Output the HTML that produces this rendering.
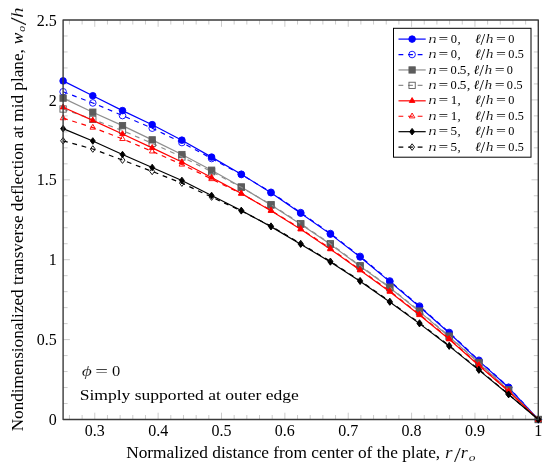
<!DOCTYPE html>
<html><head><meta charset="utf-8"><style>
html,body{margin:0;padding:0;background:#fff;}
svg{display:block;}
text{font-family:"Liberation Serif",serif;fill:#000;}
</style></head><body>
<svg width="550" height="468" viewBox="0 0 550 468">
<rect width="550" height="468" fill="#fff"/>
<path d="M69.44 419.50v-4.5M69.44 20.00v4.5M82.11 419.50v-4.5M82.11 20.00v4.5M94.78 419.50v-6.8M94.78 20.00v6.8M107.45 419.50v-4.5M107.45 20.00v4.5M120.12 419.50v-4.5M120.12 20.00v4.5M132.80 419.50v-4.5M132.80 20.00v4.5M145.47 419.50v-4.5M145.47 20.00v4.5M158.14 419.50v-6.8M158.14 20.00v6.8M170.81 419.50v-4.5M170.81 20.00v4.5M183.48 419.50v-4.5M183.48 20.00v4.5M196.16 419.50v-4.5M196.16 20.00v4.5M208.83 419.50v-4.5M208.83 20.00v4.5M221.50 419.50v-6.8M221.50 20.00v6.8M234.17 419.50v-4.5M234.17 20.00v4.5M246.84 419.50v-4.5M246.84 20.00v4.5M259.52 419.50v-4.5M259.52 20.00v4.5M272.19 419.50v-4.5M272.19 20.00v4.5M284.86 419.50v-6.8M284.86 20.00v6.8M297.53 419.50v-4.5M297.53 20.00v4.5M310.20 419.50v-4.5M310.20 20.00v4.5M322.88 419.50v-4.5M322.88 20.00v4.5M335.55 419.50v-4.5M335.55 20.00v4.5M348.22 419.50v-6.8M348.22 20.00v6.8M360.89 419.50v-4.5M360.89 20.00v4.5M373.56 419.50v-4.5M373.56 20.00v4.5M386.24 419.50v-4.5M386.24 20.00v4.5M398.91 419.50v-4.5M398.91 20.00v4.5M411.58 419.50v-6.8M411.58 20.00v6.8M424.25 419.50v-4.5M424.25 20.00v4.5M436.92 419.50v-4.5M436.92 20.00v4.5M449.60 419.50v-4.5M449.60 20.00v4.5M462.27 419.50v-4.5M462.27 20.00v4.5M474.94 419.50v-6.8M474.94 20.00v6.8M487.61 419.50v-4.5M487.61 20.00v4.5M500.28 419.50v-4.5M500.28 20.00v4.5M512.96 419.50v-4.5M512.96 20.00v4.5M525.63 419.50v-4.5M525.63 20.00v4.5M538.30 419.50v-6.8M538.30 20.00v6.8M63.10 403.52h4.5M538.30 403.52h-4.5M63.10 387.54h4.5M538.30 387.54h-4.5M63.10 371.56h4.5M538.30 371.56h-4.5M63.10 355.58h4.5M538.30 355.58h-4.5M63.10 339.60h6.8M538.30 339.60h-6.8M63.10 323.62h4.5M538.30 323.62h-4.5M63.10 307.64h4.5M538.30 307.64h-4.5M63.10 291.66h4.5M538.30 291.66h-4.5M63.10 275.68h4.5M538.30 275.68h-4.5M63.10 259.70h6.8M538.30 259.70h-6.8M63.10 243.72h4.5M538.30 243.72h-4.5M63.10 227.74h4.5M538.30 227.74h-4.5M63.10 211.76h4.5M538.30 211.76h-4.5M63.10 195.78h4.5M538.30 195.78h-4.5M63.10 179.80h6.8M538.30 179.80h-6.8M63.10 163.82h4.5M538.30 163.82h-4.5M63.10 147.84h4.5M538.30 147.84h-4.5M63.10 131.86h4.5M538.30 131.86h-4.5M63.10 115.88h4.5M538.30 115.88h-4.5M63.10 99.90h6.8M538.30 99.90h-6.8M63.10 83.92h4.5M538.30 83.92h-4.5M63.10 67.94h4.5M538.30 67.94h-4.5M63.10 51.96h4.5M538.30 51.96h-4.5M63.10 35.98h4.5M538.30 35.98h-4.5" stroke="#aaa" stroke-width="0.6" fill="none"/>
<polyline points="63.10,80.88 92.80,95.75 122.50,110.61 152.20,124.67 181.90,140.17 211.60,157.11 241.30,174.21 271.00,192.74 300.70,213.20 330.40,234.13 360.10,256.98 389.80,281.59 419.50,306.68 449.20,333.05 478.90,360.85 508.60,387.54 538.30,419.50" fill="none" stroke="#0000ff" stroke-width="1.2" stroke-linejoin="round"/>
<circle cx="63.10" cy="80.88" r="3.3" fill="#0000ff" stroke="#0000ff" stroke-width="0.9"/>
<circle cx="92.80" cy="95.75" r="3.3" fill="#0000ff" stroke="#0000ff" stroke-width="0.9"/>
<circle cx="122.50" cy="110.61" r="3.3" fill="#0000ff" stroke="#0000ff" stroke-width="0.9"/>
<circle cx="152.20" cy="124.67" r="3.3" fill="#0000ff" stroke="#0000ff" stroke-width="0.9"/>
<circle cx="181.90" cy="140.17" r="3.3" fill="#0000ff" stroke="#0000ff" stroke-width="0.9"/>
<circle cx="211.60" cy="157.11" r="3.3" fill="#0000ff" stroke="#0000ff" stroke-width="0.9"/>
<circle cx="241.30" cy="174.21" r="3.3" fill="#0000ff" stroke="#0000ff" stroke-width="0.9"/>
<circle cx="271.00" cy="192.74" r="3.3" fill="#0000ff" stroke="#0000ff" stroke-width="0.9"/>
<circle cx="300.70" cy="213.20" r="3.3" fill="#0000ff" stroke="#0000ff" stroke-width="0.9"/>
<circle cx="330.40" cy="234.13" r="3.3" fill="#0000ff" stroke="#0000ff" stroke-width="0.9"/>
<circle cx="360.10" cy="256.98" r="3.3" fill="#0000ff" stroke="#0000ff" stroke-width="0.9"/>
<circle cx="389.80" cy="281.59" r="3.3" fill="#0000ff" stroke="#0000ff" stroke-width="0.9"/>
<circle cx="419.50" cy="306.68" r="3.3" fill="#0000ff" stroke="#0000ff" stroke-width="0.9"/>
<circle cx="449.20" cy="333.05" r="3.3" fill="#0000ff" stroke="#0000ff" stroke-width="0.9"/>
<circle cx="478.90" cy="360.85" r="3.3" fill="#0000ff" stroke="#0000ff" stroke-width="0.9"/>
<circle cx="508.60" cy="387.54" r="3.3" fill="#0000ff" stroke="#0000ff" stroke-width="0.9"/>
<circle cx="538.30" cy="419.50" r="3.3" fill="#0000ff" stroke="#0000ff" stroke-width="0.9"/>
<polyline points="63.10,91.75 92.80,102.94 122.50,115.56 152.20,128.18 181.90,142.57 211.60,158.55 241.30,174.53 271.00,192.26 300.70,212.56 330.40,233.49 360.10,256.34 389.80,280.95 419.50,306.04 449.20,332.41 478.90,360.21 508.60,387.22 538.30,419.50" fill="none" stroke="#0000ff" stroke-width="1.2" stroke-dasharray="4.8 4.8" stroke-linejoin="round"/>
<circle cx="63.10" cy="91.75" r="3.3" fill="none" stroke="#0000ff" stroke-width="0.9"/>
<circle cx="92.80" cy="102.94" r="3.3" fill="none" stroke="#0000ff" stroke-width="0.9"/>
<circle cx="122.50" cy="115.56" r="3.3" fill="none" stroke="#0000ff" stroke-width="0.9"/>
<circle cx="152.20" cy="128.18" r="3.3" fill="none" stroke="#0000ff" stroke-width="0.9"/>
<circle cx="181.90" cy="142.57" r="3.3" fill="none" stroke="#0000ff" stroke-width="0.9"/>
<circle cx="211.60" cy="158.55" r="3.3" fill="none" stroke="#0000ff" stroke-width="0.9"/>
<circle cx="241.30" cy="174.53" r="3.3" fill="none" stroke="#0000ff" stroke-width="0.9"/>
<circle cx="271.00" cy="192.26" r="3.3" fill="none" stroke="#0000ff" stroke-width="0.9"/>
<circle cx="300.70" cy="212.56" r="3.3" fill="none" stroke="#0000ff" stroke-width="0.9"/>
<circle cx="330.40" cy="233.49" r="3.3" fill="none" stroke="#0000ff" stroke-width="0.9"/>
<circle cx="360.10" cy="256.34" r="3.3" fill="none" stroke="#0000ff" stroke-width="0.9"/>
<circle cx="389.80" cy="280.95" r="3.3" fill="none" stroke="#0000ff" stroke-width="0.9"/>
<circle cx="419.50" cy="306.04" r="3.3" fill="none" stroke="#0000ff" stroke-width="0.9"/>
<circle cx="449.20" cy="332.41" r="3.3" fill="none" stroke="#0000ff" stroke-width="0.9"/>
<circle cx="478.90" cy="360.21" r="3.3" fill="none" stroke="#0000ff" stroke-width="0.9"/>
<circle cx="508.60" cy="387.22" r="3.3" fill="none" stroke="#0000ff" stroke-width="0.9"/>
<circle cx="538.30" cy="419.50" r="3.3" fill="none" stroke="#0000ff" stroke-width="0.9"/>
<polyline points="63.10,98.14 92.80,112.20 122.50,125.63 152.20,139.85 181.90,154.55 211.60,170.21 241.30,186.99 271.00,205.05 300.70,224.22 330.40,244.36 360.10,266.25 389.80,287.82 419.50,311.63 449.20,336.72 478.90,363.09 508.60,390.10 538.30,419.50" fill="none" stroke="#8e8e8e" stroke-width="1.2" stroke-linejoin="round"/>
<rect x="59.95" y="94.99" width="6.30" height="6.30" fill="#5c5c5c" stroke="#5c5c5c" stroke-width="0.9"/>
<rect x="89.65" y="109.05" width="6.30" height="6.30" fill="#5c5c5c" stroke="#5c5c5c" stroke-width="0.9"/>
<rect x="119.35" y="122.48" width="6.30" height="6.30" fill="#5c5c5c" stroke="#5c5c5c" stroke-width="0.9"/>
<rect x="149.05" y="136.70" width="6.30" height="6.30" fill="#5c5c5c" stroke="#5c5c5c" stroke-width="0.9"/>
<rect x="178.75" y="151.40" width="6.30" height="6.30" fill="#5c5c5c" stroke="#5c5c5c" stroke-width="0.9"/>
<rect x="208.45" y="167.06" width="6.30" height="6.30" fill="#5c5c5c" stroke="#5c5c5c" stroke-width="0.9"/>
<rect x="238.15" y="183.84" width="6.30" height="6.30" fill="#5c5c5c" stroke="#5c5c5c" stroke-width="0.9"/>
<rect x="267.85" y="201.90" width="6.30" height="6.30" fill="#5c5c5c" stroke="#5c5c5c" stroke-width="0.9"/>
<rect x="297.55" y="221.07" width="6.30" height="6.30" fill="#5c5c5c" stroke="#5c5c5c" stroke-width="0.9"/>
<rect x="327.25" y="241.21" width="6.30" height="6.30" fill="#5c5c5c" stroke="#5c5c5c" stroke-width="0.9"/>
<rect x="356.95" y="263.10" width="6.30" height="6.30" fill="#5c5c5c" stroke="#5c5c5c" stroke-width="0.9"/>
<rect x="386.65" y="284.67" width="6.30" height="6.30" fill="#5c5c5c" stroke="#5c5c5c" stroke-width="0.9"/>
<rect x="416.35" y="308.49" width="6.30" height="6.30" fill="#5c5c5c" stroke="#5c5c5c" stroke-width="0.9"/>
<rect x="446.05" y="333.57" width="6.30" height="6.30" fill="#5c5c5c" stroke="#5c5c5c" stroke-width="0.9"/>
<rect x="475.75" y="359.94" width="6.30" height="6.30" fill="#5c5c5c" stroke="#5c5c5c" stroke-width="0.9"/>
<rect x="505.45" y="386.95" width="6.30" height="6.30" fill="#5c5c5c" stroke="#5c5c5c" stroke-width="0.9"/>
<rect x="535.15" y="416.35" width="6.30" height="6.30" fill="#5c5c5c" stroke="#5c5c5c" stroke-width="0.9"/>
<polyline points="63.10,109.01 92.80,119.40 122.50,130.58 152.20,143.37 181.90,156.95 211.60,171.65 241.30,187.31 271.00,204.57 300.70,223.59 330.40,243.72 360.10,265.61 389.80,287.19 419.50,311.00 449.20,336.08 478.90,362.45 508.60,389.78 538.30,419.50" fill="none" stroke="#8e8e8e" stroke-width="1.2" stroke-dasharray="4.8 4.8" stroke-linejoin="round"/>
<rect x="59.95" y="105.86" width="6.30" height="6.30" fill="none" stroke="#5c5c5c" stroke-width="0.9"/>
<rect x="89.65" y="116.25" width="6.30" height="6.30" fill="none" stroke="#5c5c5c" stroke-width="0.9"/>
<rect x="119.35" y="127.43" width="6.30" height="6.30" fill="none" stroke="#5c5c5c" stroke-width="0.9"/>
<rect x="149.05" y="140.22" width="6.30" height="6.30" fill="none" stroke="#5c5c5c" stroke-width="0.9"/>
<rect x="178.75" y="153.80" width="6.30" height="6.30" fill="none" stroke="#5c5c5c" stroke-width="0.9"/>
<rect x="208.45" y="168.50" width="6.30" height="6.30" fill="none" stroke="#5c5c5c" stroke-width="0.9"/>
<rect x="238.15" y="184.16" width="6.30" height="6.30" fill="none" stroke="#5c5c5c" stroke-width="0.9"/>
<rect x="267.85" y="201.42" width="6.30" height="6.30" fill="none" stroke="#5c5c5c" stroke-width="0.9"/>
<rect x="297.55" y="220.44" width="6.30" height="6.30" fill="none" stroke="#5c5c5c" stroke-width="0.9"/>
<rect x="327.25" y="240.57" width="6.30" height="6.30" fill="none" stroke="#5c5c5c" stroke-width="0.9"/>
<rect x="356.95" y="262.46" width="6.30" height="6.30" fill="none" stroke="#5c5c5c" stroke-width="0.9"/>
<rect x="386.65" y="284.04" width="6.30" height="6.30" fill="none" stroke="#5c5c5c" stroke-width="0.9"/>
<rect x="416.35" y="307.85" width="6.30" height="6.30" fill="none" stroke="#5c5c5c" stroke-width="0.9"/>
<rect x="446.05" y="332.93" width="6.30" height="6.30" fill="none" stroke="#5c5c5c" stroke-width="0.9"/>
<rect x="475.75" y="359.30" width="6.30" height="6.30" fill="none" stroke="#5c5c5c" stroke-width="0.9"/>
<rect x="505.45" y="386.63" width="6.30" height="6.30" fill="none" stroke="#5c5c5c" stroke-width="0.9"/>
<rect x="535.15" y="416.35" width="6.30" height="6.30" fill="none" stroke="#5c5c5c" stroke-width="0.9"/>
<polyline points="63.10,107.25 92.80,120.35 122.50,133.94 152.20,147.84 181.90,162.06 211.60,177.56 241.30,193.38 271.00,210.80 300.70,229.34 330.40,249.15 360.10,270.25 389.80,291.66 419.50,314.99 449.20,339.28 478.90,365.49 508.60,391.22 538.30,419.50" fill="none" stroke="#ff0000" stroke-width="1.2" stroke-linejoin="round"/>
<polygon points="63.10,104.00 65.91,108.88 60.29,108.88" fill="#ff0000" stroke="#ff0000" stroke-width="0.9" stroke-linejoin="round"/>
<polygon points="92.80,117.10 95.61,121.98 89.99,121.98" fill="#ff0000" stroke="#ff0000" stroke-width="0.9" stroke-linejoin="round"/>
<polygon points="122.50,130.69 125.31,135.56 119.69,135.56" fill="#ff0000" stroke="#ff0000" stroke-width="0.9" stroke-linejoin="round"/>
<polygon points="152.20,144.59 155.01,149.47 149.39,149.47" fill="#ff0000" stroke="#ff0000" stroke-width="0.9" stroke-linejoin="round"/>
<polygon points="181.90,158.81 184.71,163.69 179.09,163.69" fill="#ff0000" stroke="#ff0000" stroke-width="0.9" stroke-linejoin="round"/>
<polygon points="211.60,174.31 214.41,179.19 208.79,179.19" fill="#ff0000" stroke="#ff0000" stroke-width="0.9" stroke-linejoin="round"/>
<polygon points="241.30,190.13 244.11,195.01 238.49,195.01" fill="#ff0000" stroke="#ff0000" stroke-width="0.9" stroke-linejoin="round"/>
<polygon points="271.00,207.55 273.81,212.43 268.19,212.43" fill="#ff0000" stroke="#ff0000" stroke-width="0.9" stroke-linejoin="round"/>
<polygon points="300.70,226.09 303.51,230.96 297.89,230.96" fill="#ff0000" stroke="#ff0000" stroke-width="0.9" stroke-linejoin="round"/>
<polygon points="330.40,245.90 333.21,250.78 327.59,250.78" fill="#ff0000" stroke="#ff0000" stroke-width="0.9" stroke-linejoin="round"/>
<polygon points="360.10,267.00 362.91,271.87 357.29,271.87" fill="#ff0000" stroke="#ff0000" stroke-width="0.9" stroke-linejoin="round"/>
<polygon points="389.80,288.41 392.61,293.28 386.99,293.28" fill="#ff0000" stroke="#ff0000" stroke-width="0.9" stroke-linejoin="round"/>
<polygon points="419.50,311.74 422.31,316.62 416.69,316.62" fill="#ff0000" stroke="#ff0000" stroke-width="0.9" stroke-linejoin="round"/>
<polygon points="449.20,336.03 452.01,340.91 446.39,340.91" fill="#ff0000" stroke="#ff0000" stroke-width="0.9" stroke-linejoin="round"/>
<polygon points="478.90,362.24 481.71,367.11 476.09,367.11" fill="#ff0000" stroke="#ff0000" stroke-width="0.9" stroke-linejoin="round"/>
<polygon points="508.60,387.97 511.41,392.84 505.79,392.84" fill="#ff0000" stroke="#ff0000" stroke-width="0.9" stroke-linejoin="round"/>
<polygon points="538.30,416.25 541.11,421.12 535.49,421.12" fill="#ff0000" stroke="#ff0000" stroke-width="0.9" stroke-linejoin="round"/>
<polyline points="63.10,118.12 92.80,127.55 122.50,138.89 152.20,151.36 181.90,164.46 211.60,179.00 241.30,193.70 271.00,210.32 300.70,228.70 330.40,248.51 360.10,269.61 389.80,291.02 419.50,314.35 449.20,338.64 478.90,364.85 508.60,390.90 538.30,419.50" fill="none" stroke="#ff0000" stroke-width="1.2" stroke-dasharray="4.8 4.8" stroke-linejoin="round"/>
<polygon points="63.10,114.87 65.91,119.74 60.29,119.74" fill="none" stroke="#ff0000" stroke-width="0.9" stroke-linejoin="round"/>
<polygon points="92.80,124.30 95.61,129.17 89.99,129.17" fill="none" stroke="#ff0000" stroke-width="0.9" stroke-linejoin="round"/>
<polygon points="122.50,135.64 125.31,140.52 119.69,140.52" fill="none" stroke="#ff0000" stroke-width="0.9" stroke-linejoin="round"/>
<polygon points="152.20,148.11 155.01,152.98 149.39,152.98" fill="none" stroke="#ff0000" stroke-width="0.9" stroke-linejoin="round"/>
<polygon points="181.90,161.21 184.71,166.08 179.09,166.08" fill="none" stroke="#ff0000" stroke-width="0.9" stroke-linejoin="round"/>
<polygon points="211.60,175.75 214.41,180.63 208.79,180.63" fill="none" stroke="#ff0000" stroke-width="0.9" stroke-linejoin="round"/>
<polygon points="241.30,190.45 244.11,195.33 238.49,195.33" fill="none" stroke="#ff0000" stroke-width="0.9" stroke-linejoin="round"/>
<polygon points="271.00,207.07 273.81,211.95 268.19,211.95" fill="none" stroke="#ff0000" stroke-width="0.9" stroke-linejoin="round"/>
<polygon points="300.70,225.45 303.51,230.32 297.89,230.32" fill="none" stroke="#ff0000" stroke-width="0.9" stroke-linejoin="round"/>
<polygon points="330.40,245.26 333.21,250.14 327.59,250.14" fill="none" stroke="#ff0000" stroke-width="0.9" stroke-linejoin="round"/>
<polygon points="360.10,266.36 362.91,271.23 357.29,271.23" fill="none" stroke="#ff0000" stroke-width="0.9" stroke-linejoin="round"/>
<polygon points="389.80,287.77 392.61,292.65 386.99,292.65" fill="none" stroke="#ff0000" stroke-width="0.9" stroke-linejoin="round"/>
<polygon points="419.50,311.10 422.31,315.98 416.69,315.98" fill="none" stroke="#ff0000" stroke-width="0.9" stroke-linejoin="round"/>
<polygon points="449.20,335.39 452.01,340.27 446.39,340.27" fill="none" stroke="#ff0000" stroke-width="0.9" stroke-linejoin="round"/>
<polygon points="478.90,361.60 481.71,366.47 476.09,366.47" fill="none" stroke="#ff0000" stroke-width="0.9" stroke-linejoin="round"/>
<polygon points="508.60,387.65 511.41,392.52 505.79,392.52" fill="none" stroke="#ff0000" stroke-width="0.9" stroke-linejoin="round"/>
<polygon points="538.30,416.25 541.11,421.12 535.49,421.12" fill="none" stroke="#ff0000" stroke-width="0.9" stroke-linejoin="round"/>
<polyline points="63.10,128.66 92.80,140.97 122.50,154.55 152.20,167.50 181.90,180.44 211.60,195.46 241.30,210.48 271.00,226.62 300.70,244.20 330.40,261.94 360.10,281.27 389.80,302.05 419.50,323.62 449.20,346.15 478.90,370.12 508.60,394.57 538.30,419.50" fill="none" stroke="#000000" stroke-width="1.2" stroke-linejoin="round"/>
<polygon points="63.10,125.36 65.58,128.66 63.10,131.96 60.62,128.66" fill="#000000" stroke="#000000" stroke-width="0.9" stroke-linejoin="round"/>
<polygon points="92.80,137.67 95.27,140.97 92.80,144.27 90.33,140.97" fill="#000000" stroke="#000000" stroke-width="0.9" stroke-linejoin="round"/>
<polygon points="122.50,151.25 124.97,154.55 122.50,157.85 120.03,154.55" fill="#000000" stroke="#000000" stroke-width="0.9" stroke-linejoin="round"/>
<polygon points="152.20,164.20 154.67,167.50 152.20,170.80 149.72,167.50" fill="#000000" stroke="#000000" stroke-width="0.9" stroke-linejoin="round"/>
<polygon points="181.90,177.14 184.37,180.44 181.90,183.74 179.42,180.44" fill="#000000" stroke="#000000" stroke-width="0.9" stroke-linejoin="round"/>
<polygon points="211.60,192.16 214.07,195.46 211.60,198.76 209.12,195.46" fill="#000000" stroke="#000000" stroke-width="0.9" stroke-linejoin="round"/>
<polygon points="241.30,207.18 243.77,210.48 241.30,213.78 238.82,210.48" fill="#000000" stroke="#000000" stroke-width="0.9" stroke-linejoin="round"/>
<polygon points="271.00,223.32 273.48,226.62 271.00,229.92 268.52,226.62" fill="#000000" stroke="#000000" stroke-width="0.9" stroke-linejoin="round"/>
<polygon points="300.70,240.90 303.18,244.20 300.70,247.50 298.22,244.20" fill="#000000" stroke="#000000" stroke-width="0.9" stroke-linejoin="round"/>
<polygon points="330.40,258.64 332.88,261.94 330.40,265.24 327.92,261.94" fill="#000000" stroke="#000000" stroke-width="0.9" stroke-linejoin="round"/>
<polygon points="360.10,277.97 362.57,281.27 360.10,284.57 357.62,281.27" fill="#000000" stroke="#000000" stroke-width="0.9" stroke-linejoin="round"/>
<polygon points="389.80,298.75 392.27,302.05 389.80,305.35 387.32,302.05" fill="#000000" stroke="#000000" stroke-width="0.9" stroke-linejoin="round"/>
<polygon points="419.50,320.32 421.98,323.62 419.50,326.92 417.02,323.62" fill="#000000" stroke="#000000" stroke-width="0.9" stroke-linejoin="round"/>
<polygon points="449.20,342.85 451.68,346.15 449.20,349.45 446.72,346.15" fill="#000000" stroke="#000000" stroke-width="0.9" stroke-linejoin="round"/>
<polygon points="478.90,366.82 481.38,370.12 478.90,373.42 476.42,370.12" fill="#000000" stroke="#000000" stroke-width="0.9" stroke-linejoin="round"/>
<polygon points="508.60,391.27 511.07,394.57 508.60,397.87 506.12,394.57" fill="#000000" stroke="#000000" stroke-width="0.9" stroke-linejoin="round"/>
<polygon points="538.30,416.20 540.77,419.50 538.30,422.80 535.82,419.50" fill="#000000" stroke="#000000" stroke-width="0.9" stroke-linejoin="round"/>
<polyline points="63.10,140.83 92.80,149.02 122.50,160.10 152.20,171.43 181.90,183.12 211.60,197.07 241.30,210.84 271.00,226.14 300.70,243.56 330.40,261.30 360.10,280.63 389.80,301.41 419.50,322.98 449.20,345.51 478.90,369.48 508.60,394.25 538.30,419.50" fill="none" stroke="#000000" stroke-width="1.2" stroke-dasharray="4.8 4.8" stroke-linejoin="round"/>
<polygon points="63.10,137.53 65.58,140.83 63.10,144.13 60.62,140.83" fill="none" stroke="#000000" stroke-width="0.9" stroke-linejoin="round"/>
<polygon points="92.80,145.72 95.27,149.02 92.80,152.32 90.33,149.02" fill="none" stroke="#000000" stroke-width="0.9" stroke-linejoin="round"/>
<polygon points="122.50,156.80 124.97,160.10 122.50,163.40 120.03,160.10" fill="none" stroke="#000000" stroke-width="0.9" stroke-linejoin="round"/>
<polygon points="152.20,168.13 154.67,171.43 152.20,174.73 149.72,171.43" fill="none" stroke="#000000" stroke-width="0.9" stroke-linejoin="round"/>
<polygon points="181.90,179.82 184.37,183.12 181.90,186.42 179.42,183.12" fill="none" stroke="#000000" stroke-width="0.9" stroke-linejoin="round"/>
<polygon points="211.60,193.77 214.07,197.07 211.60,200.37 209.12,197.07" fill="none" stroke="#000000" stroke-width="0.9" stroke-linejoin="round"/>
<polygon points="241.30,207.54 243.77,210.84 241.30,214.14 238.82,210.84" fill="none" stroke="#000000" stroke-width="0.9" stroke-linejoin="round"/>
<polygon points="271.00,222.84 273.48,226.14 271.00,229.44 268.52,226.14" fill="none" stroke="#000000" stroke-width="0.9" stroke-linejoin="round"/>
<polygon points="300.70,240.26 303.18,243.56 300.70,246.86 298.22,243.56" fill="none" stroke="#000000" stroke-width="0.9" stroke-linejoin="round"/>
<polygon points="330.40,258.00 332.88,261.30 330.40,264.60 327.92,261.30" fill="none" stroke="#000000" stroke-width="0.9" stroke-linejoin="round"/>
<polygon points="360.10,277.33 362.57,280.63 360.10,283.93 357.62,280.63" fill="none" stroke="#000000" stroke-width="0.9" stroke-linejoin="round"/>
<polygon points="389.80,298.11 392.27,301.41 389.80,304.71 387.32,301.41" fill="none" stroke="#000000" stroke-width="0.9" stroke-linejoin="round"/>
<polygon points="419.50,319.68 421.98,322.98 419.50,326.28 417.02,322.98" fill="none" stroke="#000000" stroke-width="0.9" stroke-linejoin="round"/>
<polygon points="449.20,342.21 451.68,345.51 449.20,348.81 446.72,345.51" fill="none" stroke="#000000" stroke-width="0.9" stroke-linejoin="round"/>
<polygon points="478.90,366.18 481.38,369.48 478.90,372.78 476.42,369.48" fill="none" stroke="#000000" stroke-width="0.9" stroke-linejoin="round"/>
<polygon points="508.60,390.95 511.07,394.25 508.60,397.55 506.12,394.25" fill="none" stroke="#000000" stroke-width="0.9" stroke-linejoin="round"/>
<polygon points="538.30,416.20 540.77,419.50 538.30,422.80 535.82,419.50" fill="none" stroke="#000000" stroke-width="0.9" stroke-linejoin="round"/>
<rect x="63.1" y="20.0" width="475.20" height="399.50" fill="none" stroke="#3a3a3a" stroke-width="1.4" stroke-linejoin="round"/>
<rect x="393.5" y="28.3" width="137.5" height="128.9" fill="#fff" stroke="#000" stroke-width="1"/>
<line x1="398.5" y1="39.10" x2="425.7" y2="39.10" stroke="#0000ff" stroke-width="1.2"/>
<circle cx="412.10" cy="39.10" r="3.3" fill="#0000ff" stroke="#0000ff" stroke-width="0.9"/>
<text x="428.19" y="42.70" font-size="12.80" font-style="italic" textLength="8.51" lengthAdjust="spacingAndGlyphs" stroke="#fff" stroke-width="0.17">n</text>
<text x="438.64" y="42.70" font-size="12.80" textLength="9.70" lengthAdjust="spacingAndGlyphs">=</text>
<text x="450.72" y="42.70" font-size="12.80" textLength="6.25" lengthAdjust="spacingAndGlyphs">0</text>
<text x="457.34" y="42.70" font-size="12.80" textLength="3.69" lengthAdjust="spacingAndGlyphs" stroke="#fff" stroke-width="0.08">,</text>
<text x="474.91" y="42.70" font-size="12.80" font-style="italic" textLength="5.96" lengthAdjust="spacingAndGlyphs">ℓ</text>
<text x="480.50" y="44.94" font-size="16.29" textLength="4.70" lengthAdjust="spacingAndGlyphs">/</text>
<text x="485.84" y="42.70" font-size="12.80" font-style="italic" textLength="7.69" lengthAdjust="spacingAndGlyphs" stroke="#fff" stroke-width="0.10">h</text>
<text x="496.12" y="42.70" font-size="12.80" textLength="9.94" lengthAdjust="spacingAndGlyphs">=</text>
<text x="508.13" y="42.70" font-size="12.80" textLength="6.13" lengthAdjust="spacingAndGlyphs">0</text>
<line x1="398.5" y1="54.53" x2="425.7" y2="54.53" stroke="#0000ff" stroke-width="1.2" stroke-dasharray="4.8 4.8"/>
<circle cx="412.10" cy="54.53" r="3.3" fill="none" stroke="#0000ff" stroke-width="0.9"/>
<text x="428.19" y="58.13" font-size="12.80" font-style="italic" textLength="8.51" lengthAdjust="spacingAndGlyphs" stroke="#fff" stroke-width="0.17">n</text>
<text x="438.64" y="58.13" font-size="12.80" textLength="9.70" lengthAdjust="spacingAndGlyphs">=</text>
<text x="450.72" y="58.13" font-size="12.80" textLength="6.25" lengthAdjust="spacingAndGlyphs">0</text>
<text x="457.34" y="58.13" font-size="12.80" textLength="3.69" lengthAdjust="spacingAndGlyphs" stroke="#fff" stroke-width="0.08">,</text>
<text x="474.91" y="58.13" font-size="12.80" font-style="italic" textLength="5.96" lengthAdjust="spacingAndGlyphs">ℓ</text>
<text x="480.50" y="60.37" font-size="16.29" textLength="4.70" lengthAdjust="spacingAndGlyphs">/</text>
<text x="485.84" y="58.13" font-size="12.80" font-style="italic" textLength="7.69" lengthAdjust="spacingAndGlyphs" stroke="#fff" stroke-width="0.10">h</text>
<text x="496.12" y="58.13" font-size="12.80" textLength="9.94" lengthAdjust="spacingAndGlyphs">=</text>
<text x="508.13" y="58.13" font-size="12.80" textLength="6.13" lengthAdjust="spacingAndGlyphs">0</text>
<text x="514.45" y="58.13" font-size="12.80" textLength="3.60" lengthAdjust="spacingAndGlyphs" stroke="#fff" stroke-width="0.06">.</text>
<text x="517.69" y="58.13" font-size="12.80" textLength="6.08" lengthAdjust="spacingAndGlyphs">5</text>
<line x1="398.5" y1="69.96" x2="425.7" y2="69.96" stroke="#8e8e8e" stroke-width="1.2"/>
<rect x="408.95" y="66.81" width="6.30" height="6.30" fill="#5c5c5c" stroke="#5c5c5c" stroke-width="0.9"/>
<text x="428.19" y="73.56" font-size="12.80" font-style="italic" textLength="8.51" lengthAdjust="spacingAndGlyphs" stroke="#fff" stroke-width="0.17">n</text>
<text x="438.64" y="73.56" font-size="12.80" textLength="9.70" lengthAdjust="spacingAndGlyphs">=</text>
<text x="450.52" y="73.56" font-size="12.80" textLength="6.25" lengthAdjust="spacingAndGlyphs">0</text>
<text x="457.11" y="73.56" font-size="12.80" textLength="3.39" lengthAdjust="spacingAndGlyphs">.</text>
<text x="459.84" y="73.56" font-size="12.80" textLength="6.58" lengthAdjust="spacingAndGlyphs">5</text>
<text x="466.84" y="73.56" font-size="12.80" textLength="3.69" lengthAdjust="spacingAndGlyphs" stroke="#fff" stroke-width="0.08">,</text>
<text x="473.61" y="73.56" font-size="12.80" font-style="italic" textLength="5.96" lengthAdjust="spacingAndGlyphs">ℓ</text>
<text x="479.20" y="75.80" font-size="16.29" textLength="4.70" lengthAdjust="spacingAndGlyphs">/</text>
<text x="484.54" y="73.56" font-size="12.80" font-style="italic" textLength="7.69" lengthAdjust="spacingAndGlyphs" stroke="#fff" stroke-width="0.10">h</text>
<text x="494.82" y="73.56" font-size="12.80" textLength="9.94" lengthAdjust="spacingAndGlyphs">=</text>
<text x="506.83" y="73.56" font-size="12.80" textLength="6.13" lengthAdjust="spacingAndGlyphs">0</text>
<line x1="398.5" y1="85.39" x2="425.7" y2="85.39" stroke="#8e8e8e" stroke-width="1.2" stroke-dasharray="4.8 4.8"/>
<rect x="408.95" y="82.24" width="6.30" height="6.30" fill="none" stroke="#5c5c5c" stroke-width="0.9"/>
<text x="428.19" y="88.99" font-size="12.80" font-style="italic" textLength="8.51" lengthAdjust="spacingAndGlyphs" stroke="#fff" stroke-width="0.17">n</text>
<text x="438.64" y="88.99" font-size="12.80" textLength="9.70" lengthAdjust="spacingAndGlyphs">=</text>
<text x="450.52" y="88.99" font-size="12.80" textLength="6.25" lengthAdjust="spacingAndGlyphs">0</text>
<text x="457.11" y="88.99" font-size="12.80" textLength="3.39" lengthAdjust="spacingAndGlyphs">.</text>
<text x="459.84" y="88.99" font-size="12.80" textLength="6.58" lengthAdjust="spacingAndGlyphs">5</text>
<text x="466.84" y="88.99" font-size="12.80" textLength="3.69" lengthAdjust="spacingAndGlyphs" stroke="#fff" stroke-width="0.08">,</text>
<text x="473.61" y="88.99" font-size="12.80" font-style="italic" textLength="5.96" lengthAdjust="spacingAndGlyphs">ℓ</text>
<text x="479.20" y="91.23" font-size="16.29" textLength="4.70" lengthAdjust="spacingAndGlyphs">/</text>
<text x="484.54" y="88.99" font-size="12.80" font-style="italic" textLength="7.69" lengthAdjust="spacingAndGlyphs" stroke="#fff" stroke-width="0.10">h</text>
<text x="494.82" y="88.99" font-size="12.80" textLength="9.94" lengthAdjust="spacingAndGlyphs">=</text>
<text x="506.83" y="88.99" font-size="12.80" textLength="6.13" lengthAdjust="spacingAndGlyphs">0</text>
<text x="513.15" y="88.99" font-size="12.80" textLength="3.60" lengthAdjust="spacingAndGlyphs" stroke="#fff" stroke-width="0.06">.</text>
<text x="516.39" y="88.99" font-size="12.80" textLength="6.08" lengthAdjust="spacingAndGlyphs">5</text>
<line x1="398.5" y1="100.82" x2="425.7" y2="100.82" stroke="#ff0000" stroke-width="1.2"/>
<polygon points="412.10,97.57 414.91,102.44 409.29,102.44" fill="#ff0000" stroke="#ff0000" stroke-width="0.9" stroke-linejoin="round"/>
<text x="428.19" y="104.42" font-size="12.80" font-style="italic" textLength="8.51" lengthAdjust="spacingAndGlyphs" stroke="#fff" stroke-width="0.17">n</text>
<text x="438.64" y="104.42" font-size="12.80" textLength="9.70" lengthAdjust="spacingAndGlyphs">=</text>
<text x="450.65" y="104.42" font-size="12.80" textLength="6.53" lengthAdjust="spacingAndGlyphs">1</text>
<text x="457.34" y="104.42" font-size="12.80" textLength="3.69" lengthAdjust="spacingAndGlyphs" stroke="#fff" stroke-width="0.08">,</text>
<text x="474.91" y="104.42" font-size="12.80" font-style="italic" textLength="5.96" lengthAdjust="spacingAndGlyphs">ℓ</text>
<text x="480.50" y="106.66" font-size="16.29" textLength="4.70" lengthAdjust="spacingAndGlyphs">/</text>
<text x="485.84" y="104.42" font-size="12.80" font-style="italic" textLength="7.69" lengthAdjust="spacingAndGlyphs" stroke="#fff" stroke-width="0.10">h</text>
<text x="496.12" y="104.42" font-size="12.80" textLength="9.94" lengthAdjust="spacingAndGlyphs">=</text>
<text x="508.13" y="104.42" font-size="12.80" textLength="6.13" lengthAdjust="spacingAndGlyphs">0</text>
<line x1="398.5" y1="116.25" x2="425.7" y2="116.25" stroke="#ff0000" stroke-width="1.2" stroke-dasharray="4.8 4.8"/>
<polygon points="412.10,113.00 414.91,117.88 409.29,117.88" fill="none" stroke="#ff0000" stroke-width="0.9" stroke-linejoin="round"/>
<text x="428.19" y="119.85" font-size="12.80" font-style="italic" textLength="8.51" lengthAdjust="spacingAndGlyphs" stroke="#fff" stroke-width="0.17">n</text>
<text x="438.64" y="119.85" font-size="12.80" textLength="9.70" lengthAdjust="spacingAndGlyphs">=</text>
<text x="450.65" y="119.85" font-size="12.80" textLength="6.53" lengthAdjust="spacingAndGlyphs">1</text>
<text x="457.34" y="119.85" font-size="12.80" textLength="3.69" lengthAdjust="spacingAndGlyphs" stroke="#fff" stroke-width="0.08">,</text>
<text x="474.91" y="119.85" font-size="12.80" font-style="italic" textLength="5.96" lengthAdjust="spacingAndGlyphs">ℓ</text>
<text x="480.50" y="122.09" font-size="16.29" textLength="4.70" lengthAdjust="spacingAndGlyphs">/</text>
<text x="485.84" y="119.85" font-size="12.80" font-style="italic" textLength="7.69" lengthAdjust="spacingAndGlyphs" stroke="#fff" stroke-width="0.10">h</text>
<text x="496.12" y="119.85" font-size="12.80" textLength="9.94" lengthAdjust="spacingAndGlyphs">=</text>
<text x="508.13" y="119.85" font-size="12.80" textLength="6.13" lengthAdjust="spacingAndGlyphs">0</text>
<text x="514.45" y="119.85" font-size="12.80" textLength="3.60" lengthAdjust="spacingAndGlyphs" stroke="#fff" stroke-width="0.06">.</text>
<text x="517.69" y="119.85" font-size="12.80" textLength="6.08" lengthAdjust="spacingAndGlyphs">5</text>
<line x1="398.5" y1="131.68" x2="425.7" y2="131.68" stroke="#000000" stroke-width="1.2"/>
<polygon points="412.10,128.38 414.58,131.68 412.10,134.98 409.62,131.68" fill="#000000" stroke="#000000" stroke-width="0.9" stroke-linejoin="round"/>
<text x="428.19" y="135.28" font-size="12.80" font-style="italic" textLength="8.51" lengthAdjust="spacingAndGlyphs" stroke="#fff" stroke-width="0.17">n</text>
<text x="438.64" y="135.28" font-size="12.80" textLength="9.70" lengthAdjust="spacingAndGlyphs">=</text>
<text x="450.44" y="135.28" font-size="12.80" textLength="6.58" lengthAdjust="spacingAndGlyphs">5</text>
<text x="457.34" y="135.28" font-size="12.80" textLength="3.69" lengthAdjust="spacingAndGlyphs" stroke="#fff" stroke-width="0.08">,</text>
<text x="474.91" y="135.28" font-size="12.80" font-style="italic" textLength="5.96" lengthAdjust="spacingAndGlyphs">ℓ</text>
<text x="480.50" y="137.52" font-size="16.29" textLength="4.70" lengthAdjust="spacingAndGlyphs">/</text>
<text x="485.84" y="135.28" font-size="12.80" font-style="italic" textLength="7.69" lengthAdjust="spacingAndGlyphs" stroke="#fff" stroke-width="0.10">h</text>
<text x="496.12" y="135.28" font-size="12.80" textLength="9.94" lengthAdjust="spacingAndGlyphs">=</text>
<text x="508.13" y="135.28" font-size="12.80" textLength="6.13" lengthAdjust="spacingAndGlyphs">0</text>
<line x1="398.5" y1="147.11" x2="425.7" y2="147.11" stroke="#000000" stroke-width="1.2" stroke-dasharray="4.8 4.8"/>
<polygon points="412.10,143.81 414.58,147.11 412.10,150.41 409.62,147.11" fill="none" stroke="#000000" stroke-width="0.9" stroke-linejoin="round"/>
<text x="428.19" y="150.71" font-size="12.80" font-style="italic" textLength="8.51" lengthAdjust="spacingAndGlyphs" stroke="#fff" stroke-width="0.17">n</text>
<text x="438.64" y="150.71" font-size="12.80" textLength="9.70" lengthAdjust="spacingAndGlyphs">=</text>
<text x="450.44" y="150.71" font-size="12.80" textLength="6.58" lengthAdjust="spacingAndGlyphs">5</text>
<text x="457.34" y="150.71" font-size="12.80" textLength="3.69" lengthAdjust="spacingAndGlyphs" stroke="#fff" stroke-width="0.08">,</text>
<text x="474.91" y="150.71" font-size="12.80" font-style="italic" textLength="5.96" lengthAdjust="spacingAndGlyphs">ℓ</text>
<text x="480.50" y="152.95" font-size="16.29" textLength="4.70" lengthAdjust="spacingAndGlyphs">/</text>
<text x="485.84" y="150.71" font-size="12.80" font-style="italic" textLength="7.69" lengthAdjust="spacingAndGlyphs" stroke="#fff" stroke-width="0.10">h</text>
<text x="496.12" y="150.71" font-size="12.80" textLength="9.94" lengthAdjust="spacingAndGlyphs">=</text>
<text x="508.13" y="150.71" font-size="12.80" textLength="6.13" lengthAdjust="spacingAndGlyphs">0</text>
<text x="514.45" y="150.71" font-size="12.80" textLength="3.60" lengthAdjust="spacingAndGlyphs" stroke="#fff" stroke-width="0.06">.</text>
<text x="517.69" y="150.71" font-size="12.80" textLength="6.08" lengthAdjust="spacingAndGlyphs">5</text>
<text x="56.8" y="425.1" font-size="16" text-anchor="end">0</text>
<text x="56.8" y="345.2" font-size="16" text-anchor="end">0.5</text>
<text x="56.8" y="265.3" font-size="16" text-anchor="end">1</text>
<text x="56.8" y="185.4" font-size="16" text-anchor="end">1.5</text>
<text x="56.8" y="105.5" font-size="16" text-anchor="end">2</text>
<text x="56.8" y="25.6" font-size="16" text-anchor="end">2.5</text>
<text x="94.78" y="436.0" font-size="16" text-anchor="middle">0.3</text>
<text x="158.14" y="436.0" font-size="16" text-anchor="middle">0.4</text>
<text x="221.50" y="436.0" font-size="16" text-anchor="middle">0.5</text>
<text x="284.86" y="436.0" font-size="16" text-anchor="middle">0.6</text>
<text x="348.22" y="436.0" font-size="16" text-anchor="middle">0.7</text>
<text x="411.58" y="436.0" font-size="16" text-anchor="middle">0.8</text>
<text x="474.94" y="436.0" font-size="16" text-anchor="middle">0.9</text>
<text x="538.30" y="436.0" font-size="16" text-anchor="middle">1</text>
<text x="126.20" y="458.40" font-size="16" textLength="313.99" lengthAdjust="spacingAndGlyphs">Normalized distance from center of the plate,</text>
<text x="445.12" y="458.40" font-size="16.00" font-style="italic" textLength="7.53" lengthAdjust="spacingAndGlyphs" stroke="#fff" stroke-width="0.10">r</text>
<text x="454.10" y="461.59" font-size="21.08" textLength="6.80" lengthAdjust="spacingAndGlyphs" stroke="#fff" stroke-width="0.08">/</text>
<text x="460.67" y="458.40" font-size="16.00" font-style="italic" textLength="6.97" lengthAdjust="spacingAndGlyphs" stroke="#fff" stroke-width="0.06">r</text>
<text x="468.70" y="460.60" font-size="11.20" font-style="italic" textLength="6.70" lengthAdjust="spacingAndGlyphs" stroke="#fff" stroke-width="0.10">o</text>
<g transform="translate(22.7,430.8) rotate(-90)"><text x="-0.49" y="0.00" font-size="16" textLength="382.07" lengthAdjust="spacingAndGlyphs">Nondimensionalized transverse deflection at mid plane,</text><text x="386.59" y="0.00" font-size="16.00" font-style="italic" textLength="11.54" lengthAdjust="spacingAndGlyphs">w</text><text x="399.06" y="2.40" font-size="11.20" font-style="italic" textLength="5.79" lengthAdjust="spacingAndGlyphs">o</text><text x="405.50" y="3.58" font-size="23.02" textLength="8.00" lengthAdjust="spacingAndGlyphs" stroke="#fff" stroke-width="0.13">/</text><text x="413.06" y="0.00" font-size="16.00" font-style="italic" textLength="10.30" lengthAdjust="spacingAndGlyphs" stroke="#fff" stroke-width="0.14">h</text></g>
<text x="81.85" y="376.40" font-size="14.40" font-style="italic" textLength="10.11" lengthAdjust="spacingAndGlyphs" stroke="#fff" stroke-width="0.18">ϕ</text>
<text x="95.18" y="376.40" font-size="14.40" textLength="12.73" lengthAdjust="spacingAndGlyphs">=</text>
<text x="112.07" y="376.40" font-size="14.40" textLength="8.26" lengthAdjust="spacingAndGlyphs" stroke="#fff" stroke-width="0.07">0</text>
<text x="79.73" y="399.50" font-size="14.4" textLength="219.08" lengthAdjust="spacingAndGlyphs">Simply supported at outer edge</text>
</svg>
</body></html>
